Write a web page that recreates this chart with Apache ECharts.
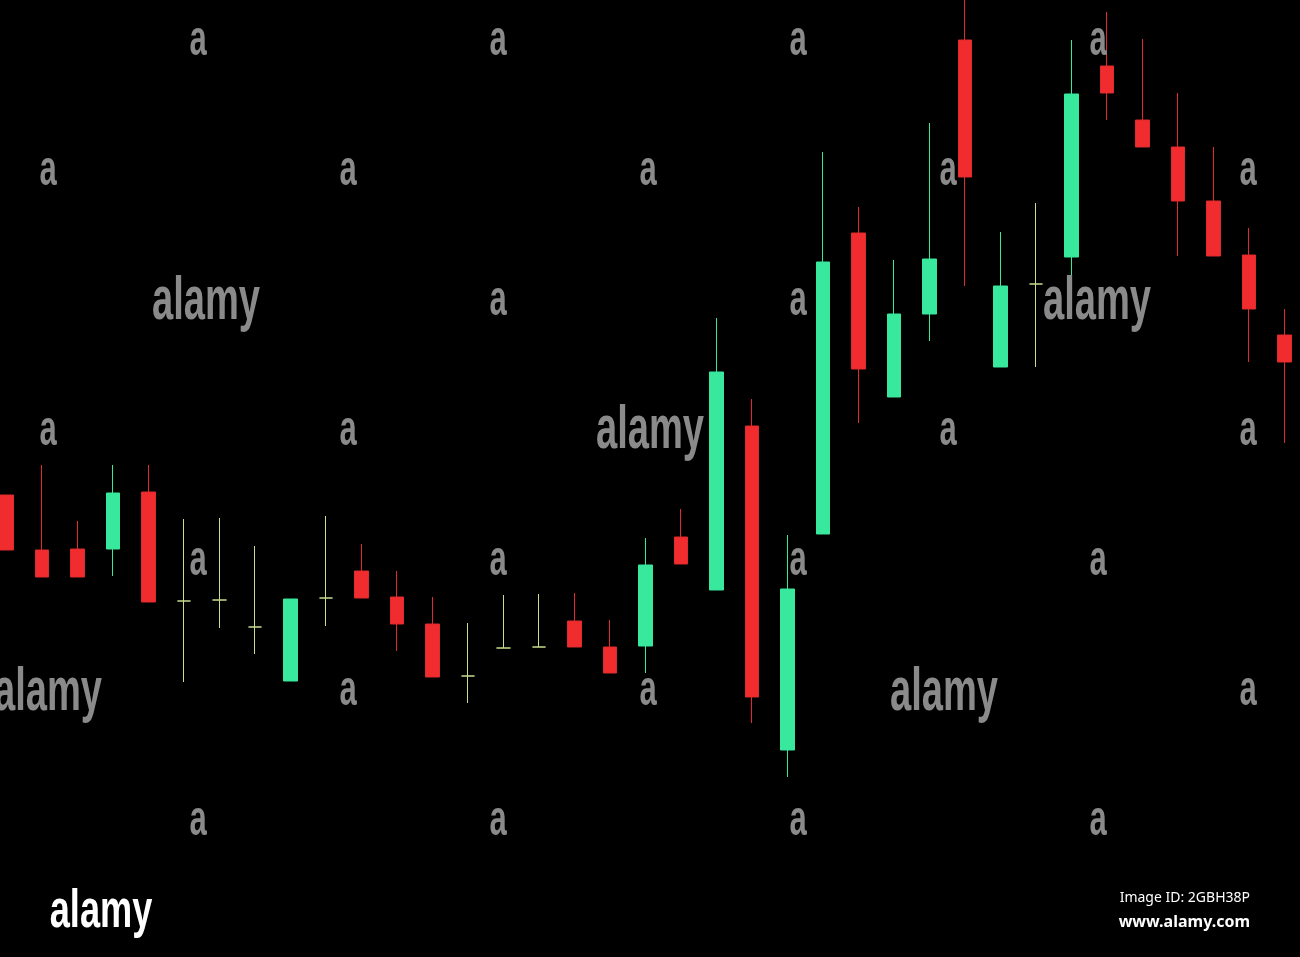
<!DOCTYPE html>
<html><head><meta charset="utf-8">
<script src="https://cdn.jsdelivr.net/npm/echarts@6/dist/echarts.min.js"></script>
<style>html,body{margin:0;padding:0;background:#000;}#c{width:1300px;height:957px;}</style>
</head><body><div id="c"></div>
<script>
const categories = ['1','2','3','4','5','6','7','8','9','10','11','12','13','14','15','16','17','18','19','20','21','22','23','24','25','26','27','28','29','30','31','32','33','34','35','36','37'];
const opens  = [46.2,40.7,40.8,40.8,46.5,35.6,35.7,33.0,27.6,35.9,38.6,36.0,33.3,28.1,30.9,31.0,33.6,31.0,31.1,42.0,36.7,53.1,20.7,42.3,72.4,56.0,64.3,91.7,59.0,67.3,70.0,89.1,83.7,81.0,75.6,70.2,62.2];
const closes = [40.7,38.0,38.0,46.4,35.5,35.6,35.7,33.0,35.8,35.9,35.9,33.3,28.0,28.1,30.9,31.0,31.0,28.4,39.2,39.3,58.5,26.0,36.8,69.5,58.8,64.3,69.8,78.0,67.1,67.3,86.3,86.4,81.0,75.6,70.1,64.8,59.5];
const lows   = [40.7,38.0,38.0,38.1,35.5,27.5,32.9,30.3,27.6,33.1,35.9,30.6,28.0,25.4,30.9,31.0,31.0,28.4,28.4,39.3,36.7,23.4,18.0,42.3,53.4,56.0,61.6,67.1,59.0,59.0,67.4,83.7,81.0,70.1,70.1,59.5,51.4];
const highs  = [46.2,49.2,43.6,49.2,49.2,43.8,43.9,41.1,35.8,44.1,41.3,38.6,36.0,33.4,36.2,36.3,36.4,33.7,41.9,44.8,63.9,55.8,42.2,80.5,75.0,69.7,83.4,95.7,72.5,75.4,91.7,94.5,91.8,86.4,81.0,72.9,64.8];

const ohlc = opens.map((o, i) => [o, closes[i], lows[i], highs[i]]);

const chart = echarts.init(document.getElementById('c'), null, {renderer: 'canvas'});

const gray = '#8a8a8a';
const graphics = [];
function aMark(x, y) {
  graphics.push({type: 'text', x: x, y: y, scaleX: 0.62, z: 100, silent: true,
    style: {text: 'a', fill: gray, font: 'bold 50px "Liberation Sans", Arial, sans-serif', textAlign: 'center', textVerticalAlign: 'middle'}});
}
function logo(x, y, color, size, sx) {
  graphics.push({type: 'text', x: x, y: y, scaleX: sx, z: 100, silent: true,
    style: {text: 'alamy', fill: color, font: 'bold ' + size + 'px "Liberation Sans", Arial, sans-serif', textAlign: 'center', textVerticalAlign: 'middle'}});
}
[[198,41],[498,41],[798,41],[1098,41],
 [48,171],[348,171],[648,171],[948,171],[1248,171],
 [498,301],[798,301],
 [48,431],[348,431],[948,431],[1248,431],
 [198,561],[498,561],[798,561],[1098,561],
 [348,691],[648,691],[1248,691],
 [198,821],[498,821],[798,821],[1098,821]].forEach(p => aMark(p[0], p[1]));
logo(206, 302, gray, 62, 0.615);
logo(1097, 302, gray, 62, 0.615);
logo(650, 431, gray, 62, 0.615);
logo(48, 693, gray, 62, 0.615);
logo(944, 693, gray, 62, 0.615);
logo(101, 912, '#ffffff', 54, 0.67);
graphics.push({type: 'text', right: 50, top: 891, z: 100, silent: true,
  style: {text: 'Image ID: 2GBH38P', fill: '#ffffff', font: '14px "Noto Sans", "Open Sans", sans-serif', textAlign: 'right'}});
graphics.push({type: 'text', right: 50, top: 914, z: 100, silent: true,
  style: {text: 'www.alamy.com', fill: '#ffffff', font: 'bold 16px "Noto Sans", "Open Sans", sans-serif', textAlign: 'right'}});

chart.setOption({
  backgroundColor: '#000000',
  animation: false,
  grid: {left: 6.6, right: 15.4, top: 0, bottom: 0},
  xAxis: {type: 'category', data: categories, boundaryGap: false, show: false},
  yAxis: {type: 'value', min: 0, max: 95.7, show: false, splitLine: {show: false}},
  series: [{
    type: 'candlestick',
    data: ohlc,
    barWidth: 14,
    clip: false,
    itemStyle: {
      color: '#38e89c', color0: '#f02c2f',
      borderColor: '#38e89c', borderColor0: '#e02a2d',
      borderColorDoji: '#c9dd8e', borderWidth: 1
    }
  }],
  graphic: graphics
});
</script></body></html>
